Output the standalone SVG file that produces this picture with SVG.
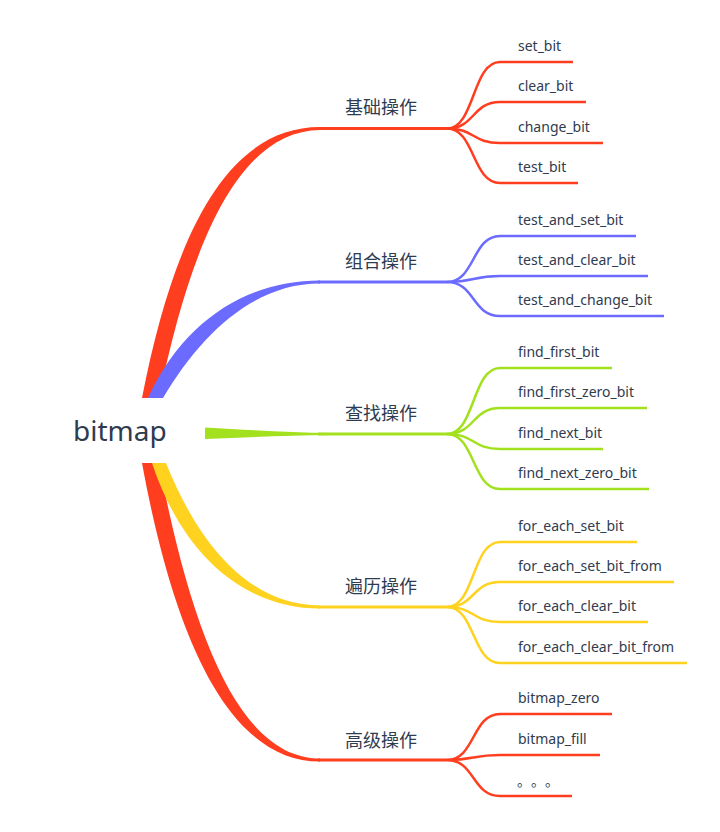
<svg xmlns="http://www.w3.org/2000/svg" width="720" height="832" viewBox="0 0 720 832">
<style>
.t{font-family:"Noto Sans","Noto Sans CJK SC",sans-serif;fill:#2F3B4F}
.leaf{font-size:14px}
.topic{font-size:18px}
.root{font-size:28px}
.dots{font-family:"Noto Sans CJK SC",sans-serif;font-size:14px;fill:#2F3B4F}
.ln{fill:none;stroke-width:2.5;stroke-linecap:butt}
.r{stroke:#FF3D1F}.b{stroke:#6B6BFF}.g{stroke:#A3E01E}.y{stroke:#FFD21F}
</style>
<rect width="720" height="832" fill="#ffffff"/>
<g id="connectors">
  <path d="M142,398 C175,228 230,127 320,127 L320,130 C240,131 192,238 159,398 Z" fill="#FF3D1F"/>
  <path d="M148,398 C185,318 250,280.5 320,280.5 L320,283.5 C255,283.5 202,332 163,398 Z" fill="#6B6BFF"/>
  <path d="M205,427.5 C250,430 290,432.5 330,433 L330,435 C290,435.5 250,437 205,439 Z" fill="#A3E01E"/>
  <path d="M142,463 C175,642 230,761.5 320,761.5 L320,758.5 C240,758.5 192,636 159,463 Z" fill="#FF3D1F"/>
  <path d="M152,463 C185,562 250,608.5 320,608.5 L320,605.5 C255,605.5 202,553 166,463 Z" fill="#FFD21F"/>
  <g class="ln r">
    <path d="M318,128.5 L447,128.5" style="stroke-width:3"/>
    <path d="M447,128.5 C475,128.5 472,62 500,62 L573,62"/>
    <path d="M447,128.5 C475,128.5 472,102 500,102 L586,102"/>
    <path d="M447,128.5 C475,128.5 472,143 500,143 L603,143"/>
    <path d="M447,128.5 C475,128.5 472,183 500,183 L578,183"/>
  </g>
  <g class="ln b">
    <path d="M318,282 L447,282" style="stroke-width:3"/>
    <path d="M447,282 C475,282 472,236 500,236 L636,236"/>
    <path d="M447,282 C475,282 472,276 500,276 L648,276"/>
    <path d="M447,282 C475,282 472,316 500,316 L664,316"/>
  </g>
  <g class="ln g">
    <path d="M318,434 L447,434" style="stroke-width:3"/>
    <path d="M447,434 C475,434 472,368 500,368 L612,368"/>
    <path d="M447,434 C475,434 472,408 500,408 L647,408"/>
    <path d="M447,434 C475,434 472,449 500,449 L603,449"/>
    <path d="M447,434 C475,434 472,489 500,489 L649,489"/>
  </g>
  <g class="ln y">
    <path d="M318,607 L447,607" style="stroke-width:3"/>
    <path d="M447,607 C475,607 472,542 500,542 L637,542"/>
    <path d="M447,607 C475,607 472,582 500,582 L674,582"/>
    <path d="M447,607 C475,607 472,622 500,622 L648,622"/>
    <path d="M447,607 C475,607 472,663 500,663 L687,663"/>
  </g>
  <g class="ln r">
    <path d="M318,760 L447,760" style="stroke-width:3"/>
    <path d="M447,760 C475,760 472,714 500,714 L612,714"/>
    <path d="M447,760 C475,760 472,755 500,755 L600,755"/>
    <path d="M447,760 C475,760 472,796 500,796 L572,796"/>
  </g>
</g>
<g id="root"><text class="t root" x="73" y="441">bitmap</text></g>
<g id="topic1"><text class="t topic" x="345" y="114">基础操作</text></g>
<g id="leaf1-1"><text class="t leaf" x="518" y="51">set_bit</text></g>
<g id="leaf1-2"><text class="t leaf" x="518" y="91">clear_bit</text></g>
<g id="leaf1-3"><text class="t leaf" x="518" y="132">change_bit</text></g>
<g id="leaf1-4"><text class="t leaf" x="518" y="172">test_bit</text></g>
<g id="topic2"><text class="t topic" x="345" y="268">组合操作</text></g>
<g id="leaf2-1"><text class="t leaf" x="518" y="225">test_and_set_bit</text></g>
<g id="leaf2-2"><text class="t leaf" x="518" y="265">test_and_clear_bit</text></g>
<g id="leaf2-3"><text class="t leaf" x="518" y="305">test_and_change_bit</text></g>
<g id="topic3"><text class="t topic" x="345" y="420">查找操作</text></g>
<g id="leaf3-1"><text class="t leaf" x="518" y="357">find_first_bit</text></g>
<g id="leaf3-2"><text class="t leaf" x="518" y="397">find_first_zero_bit</text></g>
<g id="leaf3-3"><text class="t leaf" x="518" y="438">find_next_bit</text></g>
<g id="leaf3-4"><text class="t leaf" x="518" y="478">find_next_zero_bit</text></g>
<g id="topic4"><text class="t topic" x="345" y="593">遍历操作</text></g>
<g id="leaf4-1"><text class="t leaf" x="518" y="531">for_each_set_bit</text></g>
<g id="leaf4-2"><text class="t leaf" x="518" y="571">for_each_set_bit_from</text></g>
<g id="leaf4-3"><text class="t leaf" x="518" y="611">for_each_clear_bit</text></g>
<g id="leaf4-4"><text class="t leaf" x="518" y="652">for_each_clear_bit_from</text></g>
<g id="topic5"><text class="t topic" x="345" y="747">高级操作</text></g>
<g id="leaf5-1"><text class="t leaf" x="518" y="703">bitmap_zero</text></g>
<g id="leaf5-2"><text class="t leaf" x="518" y="744">bitmap_fill</text></g>
<g id="leaf5-3"><text class="dots" x="517 531 545" y="786">。。。</text></g>
</svg>
